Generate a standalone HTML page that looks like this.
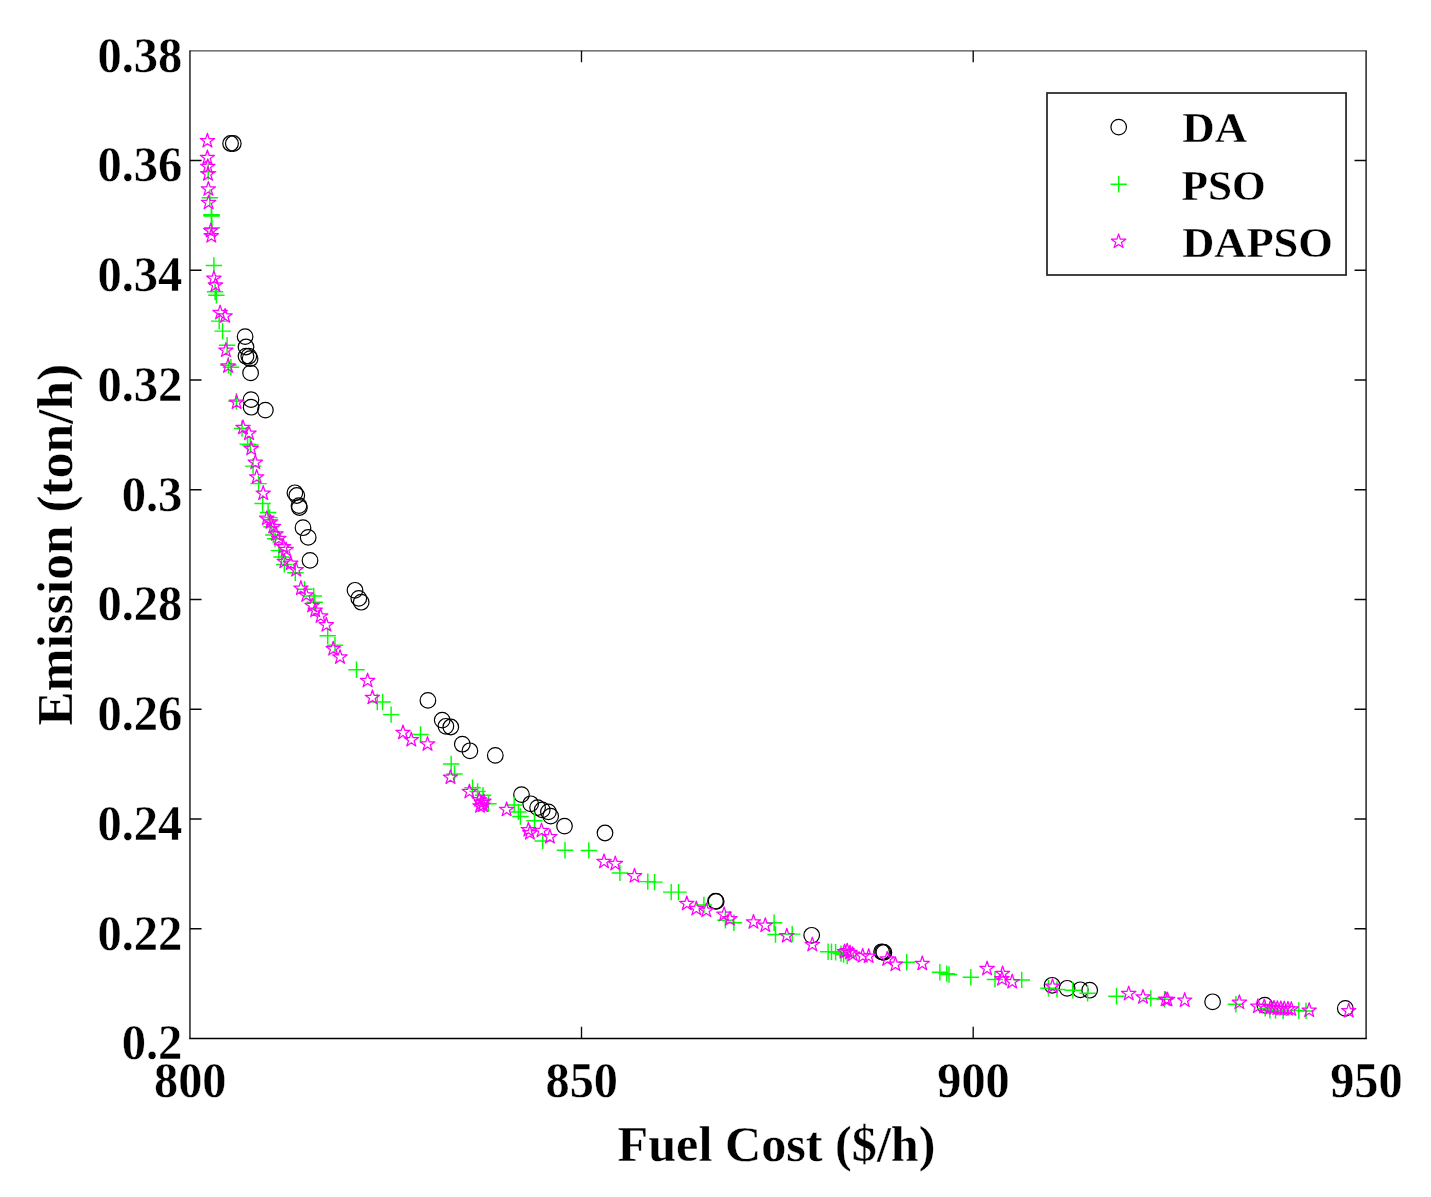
<!DOCTYPE html>
<html lang="en"><head><meta charset="utf-8"><title>Pareto front: Emission vs Fuel Cost</title>
<style>
html,body{margin:0;padding:0;background:#fff;}
body{width:1431px;height:1197px;overflow:hidden;}
svg{display:block;}
text{font-family:"Liberation Serif",serif;font-weight:bold;fill:#000;}
.tk{font-size:51px;stroke:#fff;stroke-width:0.4px;}
.lb{font-size:51px;stroke:#fff;stroke-width:0.3px;}
.lg{font-size:42px;stroke:#fff;stroke-width:0.3px;}
</style></head><body>
<svg width="1431" height="1197" viewBox="0 0 1431 1197">
<rect width="1431" height="1197" fill="#fff"/>
<path d="M189.25 50.75H1366.8" fill="none" stroke="#4a4a4a" stroke-width="1.25"/>
<path d="M189.95 50.75V1038.45M1366.1 50.75V1038.45" fill="none" stroke="#262626" stroke-width="1.5"/>
<path d="M189.2 1038.45H1366.85" fill="none" stroke="#000" stroke-width="1.6"/>
<path d="M189.95 160.49h11.6M1366.1 160.49h-11.6M189.95 270.24h11.6M1366.1 270.24h-11.6M189.95 379.98h11.6M1366.1 379.98h-11.6M189.95 489.73h11.6M1366.1 489.73h-11.6M189.95 599.47h11.6M1366.1 599.47h-11.6M189.95 709.22h11.6M1366.1 709.22h-11.6M189.95 818.96h11.6M1366.1 818.96h-11.6M189.95 928.71h11.6M1366.1 928.71h-11.6M581.5 1038.45v-11.6M581.5 50.75v11.6M973.2 1038.45v-11.6M973.2 50.75v11.6" fill="none" stroke="#0a0a0a" stroke-width="1.35"/>
<text class="tk" x="182.4" y="71.7" text-anchor="end" textLength="85.0" lengthAdjust="spacingAndGlyphs">0.38</text>
<text class="tk" x="182.4" y="181.4" text-anchor="end" textLength="85.0" lengthAdjust="spacingAndGlyphs">0.36</text>
<text class="tk" x="182.4" y="291.1" text-anchor="end" textLength="85.0" lengthAdjust="spacingAndGlyphs">0.34</text>
<text class="tk" x="182.4" y="400.9" text-anchor="end" textLength="85.0" lengthAdjust="spacingAndGlyphs">0.32</text>
<text class="tk" x="182.4" y="510.6" text-anchor="end" textLength="60.75" lengthAdjust="spacingAndGlyphs">0.3</text>
<text class="tk" x="182.4" y="620.4" text-anchor="end" textLength="85.0" lengthAdjust="spacingAndGlyphs">0.28</text>
<text class="tk" x="182.4" y="730.1" text-anchor="end" textLength="85.0" lengthAdjust="spacingAndGlyphs">0.26</text>
<text class="tk" x="182.4" y="839.9" text-anchor="end" textLength="85.0" lengthAdjust="spacingAndGlyphs">0.24</text>
<text class="tk" x="182.4" y="949.6" text-anchor="end" textLength="85.0" lengthAdjust="spacingAndGlyphs">0.22</text>
<text class="tk" x="182.4" y="1059.4" text-anchor="end" textLength="60.75" lengthAdjust="spacingAndGlyphs">0.2</text>
<text class="tk" x="190.2" y="1096.8" text-anchor="middle" textLength="72.4" lengthAdjust="spacingAndGlyphs">800</text>
<text class="tk" x="581.8" y="1096.8" text-anchor="middle" textLength="72.4" lengthAdjust="spacingAndGlyphs">850</text>
<text class="tk" x="973.5" y="1096.8" text-anchor="middle" textLength="72.4" lengthAdjust="spacingAndGlyphs">900</text>
<text class="tk" x="1366.4" y="1096.8" text-anchor="middle" textLength="72.4" lengthAdjust="spacingAndGlyphs">950</text>
<text class="lb" x="776.5" y="1160.9" text-anchor="middle" textLength="318" lengthAdjust="spacingAndGlyphs">Fuel Cost ($/h)</text>
<text class="lb" transform="translate(72.1 544.8) rotate(-90)" text-anchor="middle" textLength="362" lengthAdjust="spacingAndGlyphs">Emission (ton/h)</text>
<g fill="none" stroke="#000" stroke-width="1.2">
<circle cx="230.6" cy="143.5" r="7.8"/>
<circle cx="233.3" cy="143.5" r="7.8"/>
<circle cx="245.1" cy="336.6" r="7.8"/>
<circle cx="246.0" cy="347.0" r="7.8"/>
<circle cx="246.0" cy="356.2" r="7.8"/>
<circle cx="248.8" cy="356.2" r="7.8"/>
<circle cx="250.1" cy="358.7" r="7.8"/>
<circle cx="250.6" cy="372.9" r="7.8"/>
<circle cx="251.0" cy="399.6" r="7.8"/>
<circle cx="251.1" cy="407.2" r="7.8"/>
<circle cx="265.4" cy="410.1" r="7.8"/>
<circle cx="294.9" cy="492.8" r="7.8"/>
<circle cx="296.8" cy="495.5" r="7.8"/>
<circle cx="299.0" cy="505.6" r="7.8"/>
<circle cx="299.4" cy="507.5" r="7.8"/>
<circle cx="303.0" cy="527.7" r="7.8"/>
<circle cx="308.2" cy="537.4" r="7.8"/>
<circle cx="310.0" cy="560.4" r="7.8"/>
<circle cx="355.0" cy="590.3" r="7.8"/>
<circle cx="358.8" cy="598.4" r="7.8"/>
<circle cx="361.2" cy="602.2" r="7.8"/>
<circle cx="427.9" cy="700.4" r="7.8"/>
<circle cx="442.2" cy="720.1" r="7.8"/>
<circle cx="445.9" cy="726.3" r="7.8"/>
<circle cx="450.8" cy="727.0" r="7.8"/>
<circle cx="462.3" cy="744.2" r="7.8"/>
<circle cx="469.9" cy="750.8" r="7.8"/>
<circle cx="495.3" cy="755.4" r="7.8"/>
<circle cx="521.5" cy="794.6" r="7.8"/>
<circle cx="530.7" cy="803.8" r="7.8"/>
<circle cx="537.6" cy="807.6" r="7.8"/>
<circle cx="542.2" cy="809.9" r="7.8"/>
<circle cx="548.4" cy="811.9" r="7.8"/>
<circle cx="550.7" cy="816.1" r="7.8"/>
<circle cx="564.5" cy="826.1" r="7.8"/>
<circle cx="605.0" cy="833.0" r="7.8"/>
<circle cx="715.5" cy="901.2" r="7.8"/>
<circle cx="716.2" cy="901.4" r="7.8"/>
<circle cx="811.7" cy="935.3" r="7.8"/>
<circle cx="881.6" cy="951.8" r="7.8"/>
<circle cx="882.8" cy="952.1" r="7.8"/>
<circle cx="883.9" cy="952.4" r="7.8"/>
<circle cx="1052.1" cy="985.3" r="7.8"/>
<circle cx="1067.1" cy="988.3" r="7.8"/>
<circle cx="1080.3" cy="989.8" r="7.8"/>
<circle cx="1089.7" cy="990.2" r="7.8"/>
<circle cx="1212.6" cy="1001.8" r="7.8"/>
<circle cx="1264.8" cy="1005.2" r="7.8"/>
<circle cx="1345.3" cy="1008.4" r="7.8"/>
</g>
<path fill="none" stroke="#00ff00" stroke-width="1.45" d="M200.0 171.6H216.4M208.2 163.4V179.8M201.6 197.7H218.0M209.8 189.5V205.9M203.1 215.0H219.5M211.3 206.8V223.2M203.5 215.4H219.9M211.7 207.2V223.6M203.3 214.6H219.7M211.5 206.4V222.8M203.4 215.9H219.8M211.6 207.7V224.1M203.8 227.7H220.2M212.0 219.5V235.9M205.7 265.4H222.1M213.9 257.2V273.6M206.9 291.8H223.3M215.1 283.6V300.0M208.2 295.2H224.6M216.4 287.0V303.4M211.0 321.1H227.4M219.2 312.9V329.3M214.4 331.1H230.8M222.6 322.9V339.3M218.9 345.3H235.3M227.1 337.1V353.5M220.2 365.3H236.6M228.4 357.1V373.5M222.7 367.3H239.1M230.9 359.1V375.5M228.2 401.3H244.6M236.4 393.1V409.5M233.8 428.5H250.2M242.0 420.3V436.7M239.4 444.1H255.8M247.6 435.9V452.3M242.1 445.0H258.5M250.3 436.8V453.2M244.9 466.1H261.3M253.1 457.9V474.3M250.4 483.6H266.8M258.6 475.4V491.8M254.4 503.4H270.8M262.6 495.2V511.6M259.9 512.4H276.3M268.1 504.2V520.6M261.4 517.6H277.8M269.6 509.4V525.8M263.2 526.7H279.6M271.4 518.5V534.9M265.1 535.0H281.5M273.3 526.8V543.2M266.9 538.7H283.3M275.1 530.5V546.9M270.6 550.6H287.0M278.8 542.4V558.8M273.3 557.0H289.7M281.5 548.8V565.2M276.1 564.4H292.5M284.3 556.2V572.6M287.1 572.7H303.5M295.3 564.5V580.9M296.3 589.2H312.7M304.5 581.0V597.4M305.5 595.9H321.9M313.7 587.7V604.1M306.5 602.2H322.9M314.7 594.0V610.4M319.5 635.7H335.9M327.7 627.5V643.9M326.8 645.3H343.2M335.0 637.1V653.5M348.3 669.7H364.7M356.5 661.5V677.9M374.4 702.0H390.8M382.6 693.8V710.2M369.1 702.0H385.5M377.3 693.8V710.2M382.9 714.6H399.3M391.1 706.4V722.8M412.3 734.4H428.7M420.5 726.2V742.6M443.0 764.0H459.4M451.2 755.8V772.2M446.3 773.9H462.7M454.5 765.7V782.1M464.3 787.7H480.7M472.5 779.5V795.9M469.4 791.5H485.8M477.6 783.3V799.7M474.8 795.3H491.2M483.0 787.1V803.5M480.2 803.8H496.6M488.4 795.6V812.0M506.0 804.9H522.4M514.2 796.7V813.1M510.2 811.9H526.6M518.4 803.7V820.1M512.2 816.5H528.6M520.4 808.3V824.7M526.3 820.7H542.7M534.5 812.5V828.9M534.5 841.0H550.9M542.7 832.8V849.2M556.8 850.2H573.2M565.0 842.0V858.4M580.6 850.4H597.0M588.8 842.2V858.6M611.7 872.9H628.1M619.9 864.7V881.1M639.6 881.6H656.0M647.8 873.4V889.8M646.3 882.1H662.7M654.5 873.9V890.3M663.0 892.1H679.4M671.2 883.9V900.3M670.3 892.1H686.7M678.5 883.9V900.3M695.7 905.0H712.1M703.9 896.8V913.2M717.2 920.3H733.6M725.4 912.1V928.5M725.7 922.7H742.1M733.9 914.5V930.9M765.9 922.7H782.3M774.1 914.5V930.9M767.3 934.5H783.7M775.5 926.3V942.7M784.0 934.1H800.4M792.2 925.9V942.3M819.9 951.7H836.3M828.1 943.5V959.9M823.3 951.7H839.7M831.5 943.5V959.9M827.4 952.3H843.8M835.6 944.1V960.5M832.8 953.6H849.2M841.0 945.4V961.8M835.4 954.5H851.8M843.6 946.3V962.7M839.0 956.0H855.4M847.2 947.8V964.2M898.5 962.3H914.9M906.7 954.1V970.5M931.7 972.3H948.1M939.9 964.1V980.5M938.6 973.6H955.0M946.8 965.4V981.8M940.8 974.5H957.2M949.0 966.3V982.7M962.6 977.2H979.0M970.8 969.0V985.4M986.8 979.4H1003.2M995.0 971.2V987.6M1013.5 979.9H1029.9M1021.7 971.7V988.1M1040.3 988.2H1056.7M1048.5 980.0V996.4M1048.8 989.4H1065.2M1057.0 981.2V997.6M1064.6 990.2H1081.0M1072.8 982.0V998.4M1079.4 993.3H1095.8M1087.6 985.1V1001.5M1108.3 996.2H1124.7M1116.5 988.0V1004.4M1142.6 998.4H1159.0M1150.8 990.2V1006.6M1156.4 999.2H1172.8M1164.6 991.0V1007.4M1227.7 1004.2H1244.1M1235.9 996.0V1012.4M1257.0 1008.4H1273.4M1265.2 1000.2V1016.6M1261.7 1010.3H1278.1M1269.9 1002.1V1018.5M1267.3 1010.5H1283.7M1275.5 1002.3V1018.7M1274.9 1010.9H1291.3M1283.1 1002.7V1019.1M1290.6 1010.5H1307.0M1298.8 1002.3V1018.7M1297.8 1010.9H1314.2M1306.0 1002.7V1019.1"/>
<path fill="none" stroke="#ff00ff" stroke-width="1.25" stroke-linejoin="round" d="M207.4 133.3L209.1 138.6L214.6 138.6L210.2 141.8L211.9 147.0L207.4 143.8L202.9 147.0L204.6 141.8L200.2 138.6L205.7 138.6ZM207.4 150.0L209.1 155.3L214.6 155.3L210.2 158.5L211.9 163.7L207.4 160.5L202.9 163.7L204.6 158.5L200.2 155.3L205.7 155.3ZM207.8 159.0L209.5 164.3L215.0 164.3L210.6 167.5L212.3 172.7L207.8 169.5L203.3 172.7L205.0 167.5L200.6 164.3L206.1 164.3ZM208.0 166.5L209.7 171.8L215.2 171.8L210.8 175.0L212.5 180.2L208.0 177.0L203.5 180.2L205.2 175.0L200.8 171.8L206.3 171.8ZM208.4 181.5L210.1 186.8L215.6 186.8L211.2 190.0L212.9 195.2L208.4 192.0L203.9 195.2L205.6 190.0L201.2 186.8L206.7 186.8ZM208.6 195.1L210.3 200.4L215.8 200.4L211.4 203.6L213.1 208.8L208.6 205.6L204.1 208.8L205.8 203.6L201.4 200.4L206.9 200.4ZM210.8 223.2L212.5 228.5L218.0 228.5L213.6 231.7L215.3 236.9L210.8 233.7L206.3 236.9L208.0 231.7L203.6 228.5L209.1 228.5ZM211.3 228.4L213.0 233.7L218.5 233.7L214.1 236.9L215.8 242.1L211.3 238.9L206.8 242.1L208.5 236.9L204.1 233.7L209.6 233.7ZM213.9 270.9L215.6 276.2L221.1 276.2L216.7 279.4L218.4 284.6L213.9 281.4L209.4 284.6L211.1 279.4L206.7 276.2L212.2 276.2ZM215.4 277.6L217.1 282.9L222.6 282.9L218.2 286.1L219.9 291.3L215.4 288.1L210.9 291.3L212.6 286.1L208.2 282.9L213.7 282.9ZM220.1 305.1L221.8 310.4L227.3 310.4L222.9 313.6L224.6 318.8L220.1 315.6L215.6 318.8L217.3 313.6L212.9 310.4L218.4 310.4ZM225.1 308.5L226.8 313.8L232.3 313.8L227.9 317.0L229.6 322.2L225.1 319.0L220.6 322.2L222.3 317.0L217.9 313.8L223.4 313.8ZM225.9 342.7L227.6 348.0L233.1 348.0L228.7 351.2L230.4 356.4L225.9 353.2L221.4 356.4L223.1 351.2L218.7 348.0L224.2 348.0ZM228.1 358.6L229.8 363.9L235.3 363.9L230.9 367.1L232.6 372.3L228.1 369.1L223.6 372.3L225.3 367.1L220.9 363.9L226.4 363.9ZM236.6 394.8L238.3 400.1L243.8 400.1L239.4 403.3L241.1 408.5L236.6 405.3L232.1 408.5L233.8 403.3L229.4 400.1L234.9 400.1ZM243.0 420.0L244.7 425.3L250.2 425.3L245.8 428.5L247.5 433.7L243.0 430.5L238.5 433.7L240.2 428.5L235.8 425.3L241.3 425.3ZM249.0 425.8L250.7 431.1L256.2 431.1L251.8 434.3L253.5 439.5L249.0 436.3L244.5 439.5L246.2 434.3L241.8 431.1L247.3 431.1ZM251.2 441.1L252.9 446.4L258.4 446.4L254.0 449.6L255.7 454.8L251.2 451.6L246.7 454.8L248.4 449.6L244.0 446.4L249.5 446.4ZM255.3 454.9L257.0 460.2L262.5 460.2L258.1 463.4L259.8 468.6L255.3 465.4L250.8 468.6L252.5 463.4L248.1 460.2L253.6 460.2ZM256.7 469.5L258.4 474.8L263.9 474.8L259.5 478.0L261.2 483.2L256.7 480.0L252.2 483.2L253.9 478.0L249.5 474.8L255.0 474.8ZM263.2 485.7L264.9 491.0L270.4 491.0L266.0 494.2L267.7 499.4L263.2 496.2L258.7 499.4L260.4 494.2L256.0 491.0L261.5 491.0ZM266.8 510.9L268.5 516.2L274.0 516.2L269.6 519.4L271.3 524.6L266.8 521.4L262.3 524.6L264.0 519.4L259.6 516.2L265.1 516.2ZM270.5 514.5L272.2 519.8L277.7 519.8L273.3 523.0L275.0 528.2L270.5 525.0L266.0 528.2L267.7 523.0L263.3 519.8L268.8 519.8ZM273.3 519.1L275.0 524.4L280.5 524.4L276.1 527.6L277.8 532.8L273.3 529.6L268.8 532.8L270.5 527.6L266.1 524.4L271.6 524.4ZM276.0 526.5L277.7 531.8L283.2 531.8L278.8 535.0L280.5 540.2L276.0 537.0L271.5 540.2L273.2 535.0L268.8 531.8L274.3 531.8ZM278.8 531.1L280.5 536.4L286.0 536.4L281.6 539.6L283.3 544.8L278.8 541.6L274.3 544.8L276.0 539.6L271.6 536.4L277.1 536.4ZM283.4 539.3L285.1 544.6L290.6 544.6L286.2 547.8L287.9 553.0L283.4 549.8L278.9 553.0L280.6 547.8L276.2 544.6L281.7 544.6ZM286.1 542.1L287.8 547.4L293.3 547.4L288.9 550.6L290.6 555.8L286.1 552.6L281.6 555.8L283.3 550.6L278.9 547.4L284.4 547.4ZM284.3 554.0L286.0 559.3L291.5 559.3L287.1 562.5L288.8 567.7L284.3 564.5L279.8 567.7L281.5 562.5L277.1 559.3L282.6 559.3ZM290.7 555.9L292.4 561.2L297.9 561.2L293.5 564.4L295.2 569.6L290.7 566.4L286.2 569.6L287.9 564.4L283.5 561.2L289.0 561.2ZM296.2 562.3L297.9 567.6L303.4 567.6L299.0 570.8L300.7 576.0L296.2 572.8L291.7 576.0L293.4 570.8L289.0 567.6L294.5 567.6ZM300.9 580.7L302.6 586.0L308.1 586.0L303.7 589.2L305.4 594.4L300.9 591.2L296.4 594.4L298.1 589.2L293.7 586.0L299.2 586.0ZM306.3 587.6L308.0 592.9L313.5 592.9L309.1 596.1L310.8 601.3L306.3 598.1L301.8 601.3L303.5 596.1L299.1 592.9L304.6 592.9ZM312.2 598.1L313.9 603.4L319.4 603.4L315.0 606.6L316.7 611.8L312.2 608.6L307.7 611.8L309.4 606.6L305.0 603.4L310.5 603.4ZM315.2 602.7L316.9 608.0L322.4 608.0L318.0 611.2L319.7 616.4L315.2 613.2L310.7 616.4L312.4 611.2L308.0 608.0L313.5 608.0ZM320.6 608.6L322.3 613.9L327.8 613.9L323.4 617.1L325.1 622.3L320.6 619.1L316.1 622.3L317.8 617.1L313.4 613.9L318.9 613.9ZM326.4 617.4L328.1 622.7L333.6 622.7L329.2 625.9L330.9 631.1L326.4 627.9L321.9 631.1L323.6 625.9L319.2 622.7L324.7 622.7ZM333.2 641.3L334.9 646.6L340.4 646.6L336.0 649.8L337.7 655.0L333.2 651.8L328.7 655.0L330.4 649.8L326.0 646.6L331.5 646.6ZM340.0 649.6L341.7 654.9L347.2 654.9L342.8 658.1L344.5 663.3L340.0 660.1L335.5 663.3L337.2 658.1L332.8 654.9L338.3 654.9ZM367.6 673.1L369.3 678.4L374.8 678.4L370.4 681.6L372.1 686.8L367.6 683.6L363.1 686.8L364.8 681.6L360.4 678.4L365.9 678.4ZM372.4 690.0L374.1 695.3L379.6 695.3L375.2 698.5L376.9 703.7L372.4 700.5L367.9 703.7L369.6 698.5L365.2 695.3L370.7 695.3ZM403.0 725.0L404.7 730.3L410.2 730.3L405.8 733.5L407.5 738.7L403.0 735.5L398.5 738.7L400.2 733.5L395.8 730.3L401.3 730.3ZM411.3 732.3L413.0 737.6L418.5 737.6L414.1 740.8L415.8 746.0L411.3 742.8L406.8 746.0L408.5 740.8L404.1 737.6L409.6 737.6ZM427.5 736.6L429.2 741.9L434.7 741.9L430.3 745.1L432.0 750.3L427.5 747.1L423.0 750.3L424.7 745.1L420.3 741.9L425.8 741.9ZM450.5 769.8L452.2 775.1L457.7 775.1L453.3 778.3L455.0 783.5L450.5 780.3L446.0 783.5L447.7 778.3L443.3 775.1L448.8 775.1ZM469.4 784.1L471.1 789.4L476.6 789.4L472.2 792.6L473.9 797.8L469.4 794.6L464.9 797.8L466.6 792.6L462.2 789.4L467.7 789.4ZM479.2 792.3L480.9 797.6L486.4 797.6L482.0 800.8L483.7 806.0L479.2 802.8L474.7 806.0L476.4 800.8L472.0 797.6L477.5 797.6ZM481.5 795.4L483.2 800.7L488.7 800.7L484.3 803.9L486.0 809.1L481.5 805.9L477.0 809.1L478.7 803.9L474.3 800.7L479.8 800.7ZM483.8 793.9L485.5 799.2L491.0 799.2L486.6 802.4L488.3 807.6L483.8 804.4L479.3 807.6L481.0 802.4L476.6 799.2L482.1 799.2ZM483.0 797.7L484.7 803.0L490.2 803.0L485.8 806.2L487.5 811.4L483.0 808.2L478.5 811.4L480.2 806.2L475.8 803.0L481.3 803.0ZM480.0 798.5L481.7 803.8L487.2 803.8L482.8 807.0L484.5 812.2L480.0 809.0L475.5 812.2L477.2 807.0L472.8 803.8L478.3 803.8ZM506.6 802.0L508.3 807.3L513.8 807.3L509.4 810.5L511.1 815.7L506.6 812.5L502.1 815.7L503.8 810.5L499.4 807.3L504.9 807.3ZM528.4 822.3L530.1 827.6L535.6 827.6L531.2 830.8L532.9 836.0L528.4 832.8L523.9 836.0L525.6 830.8L521.2 827.6L526.7 827.6ZM529.9 825.4L531.6 830.7L537.1 830.7L532.7 833.9L534.4 839.1L529.9 835.9L525.4 839.1L527.1 833.9L522.7 830.7L528.2 830.7ZM541.5 823.1L543.2 828.4L548.7 828.4L544.3 831.6L546.0 836.8L541.5 833.6L537.0 836.8L538.7 831.6L534.3 828.4L539.8 828.4ZM549.9 829.2L551.6 834.5L557.1 834.5L552.7 837.7L554.4 842.9L549.9 839.7L545.4 842.9L547.1 837.7L542.7 834.5L548.2 834.5ZM604.0 854.0L605.7 859.3L611.2 859.3L606.8 862.5L608.5 867.7L604.0 864.5L599.5 867.7L601.2 862.5L596.8 859.3L602.3 859.3ZM615.3 856.1L617.0 861.4L622.5 861.4L618.1 864.6L619.8 869.8L615.3 866.6L610.8 869.8L612.5 864.6L608.1 861.4L613.6 861.4ZM634.5 868.4L636.2 873.7L641.7 873.7L637.3 876.9L639.0 882.1L634.5 878.9L630.0 882.1L631.7 876.9L627.3 873.7L632.8 873.7ZM686.8 896.0L688.5 901.3L694.0 901.3L689.6 904.5L691.3 909.7L686.8 906.5L682.3 909.7L684.0 904.5L679.6 901.3L685.1 901.3ZM696.3 901.1L698.0 906.4L703.5 906.4L699.1 909.6L700.8 914.8L696.3 911.6L691.8 914.8L693.5 909.6L689.1 906.4L694.6 906.4ZM706.3 902.9L708.0 908.2L713.5 908.2L709.1 911.4L710.8 916.6L706.3 913.4L701.8 916.6L703.5 911.4L699.1 908.2L704.6 908.2ZM724.1 906.9L725.8 912.2L731.3 912.2L726.9 915.4L728.6 920.6L724.1 917.4L719.6 920.6L721.3 915.4L716.9 912.2L722.4 912.2ZM729.9 911.4L731.6 916.7L737.1 916.7L732.7 919.9L734.4 925.1L729.9 921.9L725.4 925.1L727.1 919.9L722.7 916.7L728.2 916.7ZM753.5 914.5L755.2 919.8L760.7 919.8L756.3 923.0L758.0 928.2L753.5 925.0L749.0 928.2L750.7 923.0L746.3 919.8L751.8 919.8ZM765.3 917.8L767.0 923.1L772.5 923.1L768.1 926.3L769.8 931.5L765.3 928.3L760.8 931.5L762.5 926.3L758.1 923.1L763.6 923.1ZM786.8 928.3L788.5 933.6L794.0 933.6L789.6 936.8L791.3 942.0L786.8 938.8L782.3 942.0L784.0 936.8L779.6 933.6L785.1 933.6ZM812.3 937.1L814.0 942.4L819.5 942.4L815.1 945.6L816.8 950.8L812.3 947.6L807.8 950.8L809.5 945.6L805.1 942.4L810.6 942.4ZM844.5 944.2L846.2 949.5L851.7 949.5L847.3 952.7L849.0 957.9L844.5 954.7L840.0 957.9L841.7 952.7L837.3 949.5L842.8 949.5ZM847.2 943.3L848.9 948.6L854.4 948.6L850.0 951.8L851.7 957.0L847.2 953.8L842.7 957.0L844.4 951.8L840.0 948.6L845.5 948.6ZM850.0 945.1L851.7 950.4L857.2 950.4L852.8 953.6L854.5 958.8L850.0 955.6L845.5 958.8L847.2 953.6L842.8 950.4L848.3 950.4ZM852.7 946.9L854.4 952.2L859.9 952.2L855.5 955.4L857.2 960.6L852.7 957.4L848.2 960.6L849.9 955.4L845.5 952.2L851.0 952.2ZM862.7 948.4L864.4 953.7L869.9 953.7L865.5 956.9L867.2 962.1L862.7 958.9L858.2 962.1L859.9 956.9L855.5 953.7L861.0 953.7ZM868.7 948.7L870.4 954.0L875.9 954.0L871.5 957.2L873.2 962.4L868.7 959.2L864.2 962.4L865.9 957.2L861.5 954.0L867.0 954.0ZM887.2 951.5L888.9 956.8L894.4 956.8L890.0 960.0L891.7 965.2L887.2 962.0L882.7 965.2L884.4 960.0L880.0 956.8L885.5 956.8ZM895.4 956.9L897.1 962.2L902.6 962.2L898.2 965.4L899.9 970.6L895.4 967.4L890.9 970.6L892.6 965.4L888.2 962.2L893.7 962.2ZM922.3 956.0L924.0 961.3L929.5 961.3L925.1 964.5L926.8 969.7L922.3 966.5L917.8 969.7L919.5 964.5L915.1 961.3L920.6 961.3ZM987.1 961.1L988.8 966.4L994.3 966.4L989.9 969.6L991.6 974.8L987.1 971.6L982.6 974.8L984.3 969.6L979.9 966.4L985.4 966.4ZM1002.6 966.0L1004.3 971.3L1009.8 971.3L1005.4 974.5L1007.1 979.7L1002.6 976.5L998.1 979.7L999.8 974.5L995.4 971.3L1000.9 971.3ZM1002.0 971.4L1003.7 976.7L1009.2 976.7L1004.8 979.9L1006.5 985.1L1002.0 981.9L997.5 985.1L999.2 979.9L994.8 976.7L1000.3 976.7ZM1012.2 974.2L1013.9 979.5L1019.4 979.5L1015.0 982.7L1016.7 987.9L1012.2 984.7L1007.7 987.9L1009.4 982.7L1005.0 979.5L1010.5 979.5ZM1052.5 978.9L1054.2 984.2L1059.7 984.2L1055.3 987.4L1057.0 992.6L1052.5 989.4L1048.0 992.6L1049.7 987.4L1045.3 984.2L1050.8 984.2ZM1128.7 986.1L1130.4 991.4L1135.9 991.4L1131.5 994.6L1133.2 999.8L1128.7 996.6L1124.2 999.8L1125.9 994.6L1121.5 991.4L1127.0 991.4ZM1143.0 989.5L1144.7 994.8L1150.2 994.8L1145.8 998.0L1147.5 1003.2L1143.0 1000.0L1138.5 1003.2L1140.2 998.0L1135.8 994.8L1141.3 994.8ZM1165.6 991.9L1167.3 997.2L1172.8 997.2L1168.4 1000.4L1170.1 1005.6L1165.6 1002.4L1161.1 1005.6L1162.8 1000.4L1158.4 997.2L1163.9 997.2ZM1167.5 992.1L1169.2 997.4L1174.7 997.4L1170.3 1000.6L1172.0 1005.8L1167.5 1002.6L1163.0 1005.8L1164.7 1000.6L1160.3 997.4L1165.8 997.4ZM1184.7 992.7L1186.4 998.0L1191.9 998.0L1187.5 1001.2L1189.2 1006.4L1184.7 1003.2L1180.2 1006.4L1181.9 1001.2L1177.5 998.0L1183.0 998.0ZM1239.4 994.9L1241.1 1000.2L1246.6 1000.2L1242.2 1003.4L1243.9 1008.6L1239.4 1005.4L1234.9 1008.6L1236.6 1003.4L1232.2 1000.2L1237.7 1000.2ZM1257.9 998.9L1259.6 1004.2L1265.1 1004.2L1260.7 1007.4L1262.4 1012.6L1257.9 1009.4L1253.4 1012.6L1255.1 1007.4L1250.7 1004.2L1256.2 1004.2ZM1264.2 999.1L1265.9 1004.4L1271.4 1004.4L1267.0 1007.6L1268.7 1012.8L1264.2 1009.6L1259.7 1012.8L1261.4 1007.6L1257.0 1004.4L1262.5 1004.4ZM1270.5 1000.1L1272.2 1005.4L1277.7 1005.4L1273.3 1008.6L1275.0 1013.8L1270.5 1010.6L1266.0 1013.8L1267.7 1008.6L1263.3 1005.4L1268.8 1005.4ZM1274.0 1000.5L1275.7 1005.8L1281.2 1005.8L1276.8 1009.0L1278.5 1014.2L1274.0 1011.0L1269.5 1014.2L1271.2 1009.0L1266.8 1005.8L1272.3 1005.8ZM1277.4 1000.8L1279.1 1006.1L1284.6 1006.1L1280.2 1009.3L1281.9 1014.5L1277.4 1011.3L1272.9 1014.5L1274.6 1009.3L1270.2 1006.1L1275.7 1006.1ZM1280.8 1001.0L1282.5 1006.3L1288.0 1006.3L1283.6 1009.5L1285.3 1014.7L1280.8 1011.5L1276.3 1014.7L1278.0 1009.5L1273.6 1006.3L1279.1 1006.3ZM1284.3 1001.1L1286.0 1006.4L1291.5 1006.4L1287.1 1009.6L1288.8 1014.8L1284.3 1011.6L1279.8 1014.8L1281.5 1009.6L1277.1 1006.4L1282.6 1006.4ZM1287.9 1001.4L1289.6 1006.7L1295.1 1006.7L1290.7 1009.9L1292.4 1015.1L1287.9 1011.9L1283.4 1015.1L1285.1 1009.9L1280.7 1006.7L1286.2 1006.7ZM1291.3 1001.6L1293.0 1006.9L1298.5 1006.9L1294.1 1010.1L1295.8 1015.3L1291.3 1012.1L1286.8 1015.3L1288.5 1010.1L1284.1 1006.9L1289.6 1006.9ZM1309.2 1002.7L1310.9 1008.0L1316.4 1008.0L1312.0 1011.2L1313.7 1016.4L1309.2 1013.2L1304.7 1016.4L1306.4 1011.2L1302.0 1008.0L1307.5 1008.0ZM1348.7 1003.3L1350.4 1008.6L1355.9 1008.6L1351.5 1011.8L1353.2 1017.0L1348.7 1013.8L1344.2 1017.0L1345.9 1011.8L1341.5 1008.6L1347.0 1008.6Z"/>
<rect x="1047" y="93" width="299.05" height="182" fill="#fff" stroke="#222" stroke-width="1.7"/>
<circle cx="1118.7" cy="127.1" r="7.8" fill="none" stroke="#000" stroke-width="1.2"/>
<path fill="none" stroke="#00ff00" stroke-width="1.45" d="M1110.5 184.3H1126.9M1118.7 176.1V192.5"/>
<path fill="none" stroke="#ff00ff" stroke-width="1.25" stroke-linejoin="round" d="M1118.6 233.9L1120.3 239.2L1125.8 239.2L1121.4 242.4L1123.1 247.6L1118.6 244.4L1114.1 247.6L1115.8 242.4L1111.4 239.2L1116.9 239.2Z"/>
<text class="lg" x="1182.3" y="142.3" textLength="64.8" lengthAdjust="spacingAndGlyphs">DA</text>
<text class="lg" x="1181.6" y="200.2" textLength="84" lengthAdjust="spacingAndGlyphs">PSO</text>
<text class="lg" x="1182.3" y="257.3" textLength="150.5" lengthAdjust="spacingAndGlyphs">DAPSO</text>
</svg></body></html>
